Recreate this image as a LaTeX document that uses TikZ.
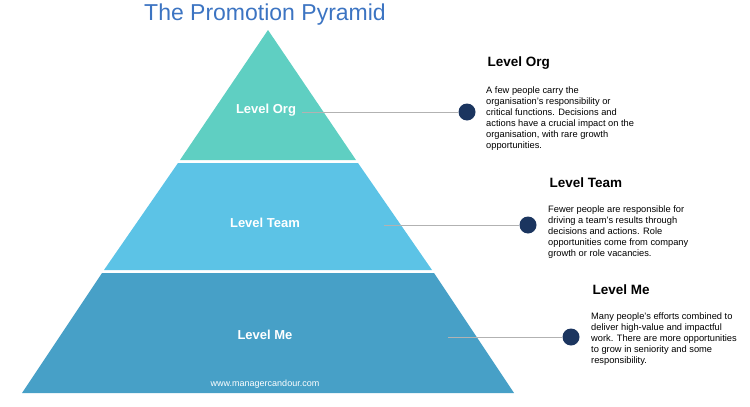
\documentclass[tikz,border=0pt]{standalone}
\usepackage{fontspec}
\setmainfont{Liberation Sans}
\definecolor{cOrg}{HTML}{5FCFC2}
\definecolor{cTeam}{HTML}{5CC3E6}
\definecolor{cMe}{HTML}{47A0C7}
\definecolor{navy}{HTML}{1B355F}
\definecolor{ttl}{HTML}{3C74C2}
\begin{document}
\begin{tikzpicture}[x=1pt,y=-1pt,
  lvl/.style={text=white,font=\bfseries\fontsize{13}{15}\selectfont},
  head/.style={anchor=west,font=\bfseries\fontsize{13.5}{16}\selectfont},
  body/.style={anchor=north west,align=left,inner sep=0,font=\fontsize{9.3}{11}\selectfont},
  dot/.style={circle,fill=navy,minimum size=17pt,inner sep=0},
  lead/.style={draw=gray!60,line width=0.6pt}]
\useasboundingbox (0,0) rectangle (750,407);
\fill[cOrg] (268,30) -- (356,160) -- (180,160) -- cycle;
\fill[cTeam] (178,163) -- (358,163) -- (432,270) -- (104,270) -- cycle;
\fill[cMe] (102,273) -- (434,273) -- (514,393) -- (22,393) -- cycle;
\node[font=\fontsize{23}{26}\selectfont,text=ttl] (title) at (265,15) {The Promotion Pyramid};
\node[lvl] (lo) at (266,110) {Level Org};
\node[lvl] (lt) at (265,223) {Level Team};
\node[lvl] (lm) at (265,335) {Level Me};
\node[text=white,font=\fontsize{9}{10}\selectfont] (web) at (265,384) {www.managercandour.com};
\coordinate (so) at (302,112); \node[dot] (do) at (467,112) {};
\coordinate (st) at (384,225); \node[dot] (dt) at (528,225) {};
\coordinate (sm) at (448,337); \node[dot] (dm) at (571,337) {};
\draw[lead] (so) -- (do); \draw[lead] (st) -- (dt); \draw[lead] (sm) -- (dm);
\node[head] (ho) at (484,63) {Level Org};
\node[body] (bo) at (486,87) {A few people carry the\\organisation's responsibility or\\critical functions. Decisions and\\actions have a crucial impact on the\\organisation, with rare growth\\opportunities.};
\node[head] (ht) at (546,183) {Level Team};
\node[body] (bt) at (548,206) {Fewer people are responsible for\\driving a team's results through\\decisions and actions. Role\\opportunities come from company\\growth or role vacancies.};
\node[head] (hm) at (589,290) {Level Me};
\node[body] (bm) at (591,313) {Many people's efforts combined to\\deliver high-value and impactful\\work. There are more opportunities\\to grow in seniority and some\\responsibility.};
\end{tikzpicture}
\end{document}
